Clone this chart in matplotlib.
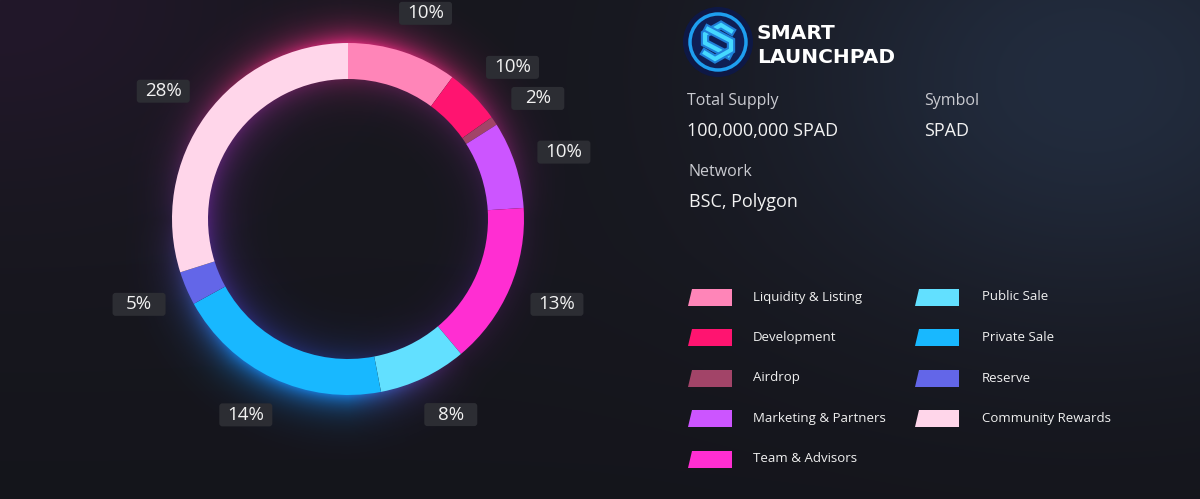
import numpy as np
import matplotlib.pyplot as plt
from matplotlib.colors import to_rgb
from matplotlib.patches import Polygon, Circle, FancyBboxPatch

W, H = 1200, 499

categories = ['Liquidity & Listing', 'Development', 'Airdrop', 'Marketing & Partners',
              'Team & Advisors', 'Public Sale', 'Private Sale', 'Reserve',
              'Community Rewards']
# share of the ring each segment takes in the picture (percent)
shares = [10.1, 5.1, 0.8, 8.0, 14.9, 8.1, 20.0, 3.1, 29.9]
# percentages printed in the label boxes
pct_labels = ['10%', '10%', '2%', '10%', '13%', '8%', '14%', '5%', '28%']
colors = ['#ff85b8', '#ff1470', '#a24468', '#cc55ff', '#ff2ed2',
          '#62e0ff', '#18b8ff', '#6366e8', '#ffd6ea']

info = [('Total Supply', '100,000,000 SPAD', 687, 101),
        ('Symbol', 'SPAD', 924, 101),
        ('Network', 'BSC, Polygon', 689, 172)]

FONT = 'Open Sans'


def fy(y):
    # pixel row measured from the top -> data y
    return H - y


def background():
    yy, xx = np.mgrid[0:H, 0:W]
    base = np.array([0x17, 0x17, 0x1e], float)
    navy = np.array([0x22, 0x2c, 0x3e], float)
    purple = np.array([0x22, 0x18, 0x2a], float)
    dark = np.array([0x13, 0x14, 0x1a], float)
    img = np.ones((H, W, 3)) * base
    w1 = np.exp(-(((xx - 1090) / 300.0) ** 2 + ((yy - 80) / 230.0) ** 2))
    w2 = np.exp(-((xx / 260.0) ** 2 + (yy / 180.0) ** 2))
    w3 = np.clip((yy - 250) / 250.0, 0, 1) * 0.6
    for w, c in [(w3, dark), (w2, purple), (w1, navy)]:
        img = img * (1 - w[..., None]) + c * w[..., None]
    return img / 255.0


def glow(cx, cy, R, r_in):
    # soft halo around the ring, coloured by direction (clockwise from top)
    yy, xx = np.mgrid[0:H, 0:W]
    dx, dy = xx - cx, yy - cy
    dist = np.hypot(dx, dy)
    ang = np.degrees(np.arctan2(dx, -dy)) % 360
    stops = [0, 40, 90, 140, 180, 220, 270, 320, 360]
    out_cols = ['#ff2d8a', '#ff2d8a', '#b02cd0', '#b02cd0', '#1a8fff',
                '#1a8fff', '#7a3cc0', '#e0307f', '#ff2d8a']
    out_int = [0.8, 0.5, 0.1, 0.12, 0.75, 0.7, 0.18, 0.5, 0.8]
    in_cols = ['#b02a7a', '#9a2a90', '#7a2ab0', '#5a2ab0', '#2a50d0',
               '#3a40c0', '#6a2aa0', '#8a2a90', '#b02a7a']
    in_int = [0.4, 0.3, 0.2, 0.2, 0.35, 0.45, 0.6, 0.5, 0.4]
    img = np.zeros((H, W, 4))

    def colour_at(cols):
        rgb = np.array([to_rgb(c) for c in cols])
        return np.stack([np.interp(ang, stops, rgb[:, k]) for k in range(3)], -1)

    oc, ic = colour_at(out_cols), colour_at(in_cols)
    oa = np.interp(ang, stops, out_int) * np.exp(-np.clip(dist - R, 0, None) / 14.0)
    ia = np.interp(ang, stops, in_int) * np.exp(-np.clip(r_in - dist, 0, None) / 16.0)
    outside = dist >= R - 2
    inside = dist <= r_in + 2
    img[outside, :3] = oc[outside]
    img[outside, 3] = oa[outside]
    img[inside, :3] = ic[inside]
    img[inside, 3] = ia[inside]
    return img


def main():
    fig = plt.figure(figsize=(W / 100, H / 100), dpi=100)
    ax = fig.add_axes([0, 0, 1, 1])
    ax.imshow(background(), extent=[0, W, 0, H], origin='upper', zorder=0)

    px, py = 348, 219
    cx, cy = px, fy(py)
    R, ring_w = 176, 36
    r_in = R - ring_w

    ax.imshow(glow(px, py, R, r_in), extent=[0, W, 0, H], origin='upper', zorder=1)

    wedges, _ = ax.pie(shares, radius=R, center=(cx, cy), colors=colors,
                       startangle=90, counterclock=False,
                       wedgeprops=dict(width=ring_w, linewidth=0))
    for w in wedges:
        w.set_zorder(3)

    # percentage boxes around the ring
    cum = np.cumsum([0] + shares[:-1])
    for share, start, lab in zip(shares, cum, pct_labels):
        ang = np.deg2rad(90 - (start + share / 2) * 3.6)
        lx = cx + 1.23 * R * np.cos(ang)
        ly = cy + 1.23 * R * np.sin(ang)
        lx += 10 if np.cos(ang) >= 0 else -10
        ax.add_patch(FancyBboxPatch((lx - 26.5, ly - 11.5), 53, 23,
                                    boxstyle='round,pad=0,rounding_size=3',
                                    fc='#2c2d33', ec='none', zorder=5))
        ax.text(lx, ly, lab, ha='center', va='center', color='#f2f2f2',
                fontsize=13.5, family=FONT, zorder=6)

    # logo
    lc = (718, fy(42))
    ax.add_patch(Circle(lc, 35, fc='#0e1845', ec='none', zorder=4))
    ax.add_patch(Circle(lc, 28, fc='#0f1f55', ec='#1e9ef0', lw=2.5, zorder=4))
    s_a = [(13, -11), (3, -17), (-13, -8), (-13, 1), (10, 13)]
    s_b = [(-13, 11), (-3, 17), (13, 8), (13, -1), (-10, -13)]
    for pts in (s_a, s_b):
        xs = [lc[0] + p[0] for p in pts]
        ys = [lc[1] - p[1] for p in pts]
        ax.plot(xs, ys, color='#1f7fd8', lw=6, solid_joinstyle='miter', zorder=4)
        ax.plot(xs, ys, color='#45d8ff', lw=3, solid_joinstyle='miter', zorder=4)
    ax.text(757, fy(33), 'SMART', color='white', fontsize=14.5,
            fontweight='bold', family='DejaVu Sans', va='center', zorder=4)
    ax.text(757, fy(57), 'LAUNCHPAD', color='white', fontsize=14.5,
            fontweight='bold', family='DejaVu Sans', va='center', zorder=4)

    for title, value, x, y in info:
        ax.text(x, fy(y), title, color='#c9cad0', fontsize=11.5, family=FONT,
                va='center', zorder=4)
        ax.text(x, fy(y + 30), value, color='#f2f2f2', fontsize=13, family=FONT,
                va='center', zorder=4)

    # legend with slanted swatches
    rows = [297, 337.5, 378, 418.5, 459]
    for i, (name, col) in enumerate(zip(categories, colors)):
        sx, tx = (688, 753) if i < 5 else (915, 982)
        y = rows[i % 5] if i < 5 else rows[i - 5]
        swatch = [(sx + 3.5, fy(y - 8.5)), (sx + 44, fy(y - 8.5)),
                  (sx + 44, fy(y + 8.5)), (sx, fy(y + 8.5))]
        ax.add_patch(Polygon(swatch, closed=True, fc=col, ec='none', zorder=4))
        ax.text(tx, fy(y), name, color='#f0f0f0', fontsize=9.5, family=FONT,
                va='center', zorder=4)

    ax.set_xlim(0, W)
    ax.set_ylim(0, H)
    ax.set_aspect('auto')
    ax.axis('off')
    fig.savefig('out.png', dpi=100)


if __name__ == '__main__':
    main()
